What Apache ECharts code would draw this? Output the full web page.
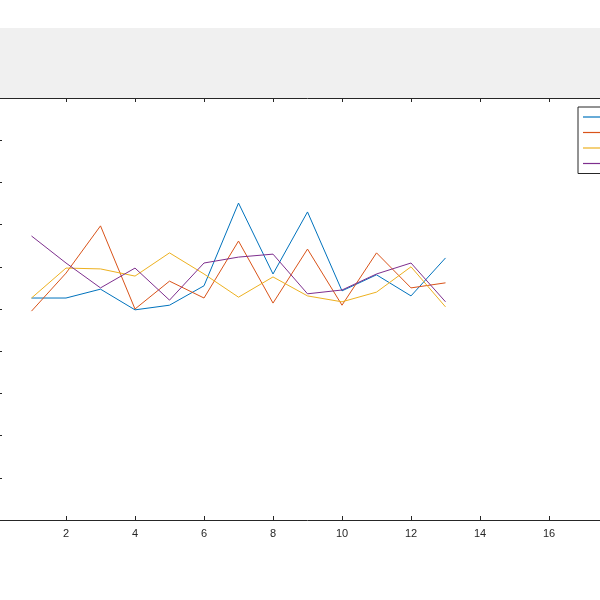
<!DOCTYPE html>
<html><head><meta charset="utf-8">
<script src="https://cdn.jsdelivr.net/npm/echarts@6/dist/echarts.min.js"></script>
<style>html,body{margin:0;padding:0;background:#fff;overflow:hidden;width:600px;height:600px;position:relative}
#c{position:absolute;left:-20px;top:0;width:660px;height:600px}</style>
</head><body><div id="c"></div>
<script>
const xValues = [1,2,3,4,5,6,7,8,9,10,11,12,13];
const xTicks = [2,4,6,8,10,12,14,16,18];
const seriesNames = ['data1','data2','data3','data4'];
const s1 = [5.26,5.26,5.47,4.98,5.09,5.55,7.51,5.83,7.30,5.43,5.81,5.31,6.21];
const s2 = [4.95,5.85,6.97,5.00,5.66,5.26,6.61,5.14,6.42,5.09,6.33,5.50,5.62];
const s3 = [5.26,5.97,5.95,5.78,6.33,5.83,5.28,5.76,5.31,5.17,5.40,6.00,5.05];
const s4 = [6.73,6.09,5.50,5.97,5.21,6.09,6.23,6.30,5.36,5.45,5.83,6.09,5.17];
const colors = ['#0072BD','#D95319','#EDB120','#7E2F8E'];
const all = [s1,s2,s3,s4];
const chart = echarts.init(document.getElementById('c'));
const axisLine = {show:true, lineStyle:{color:'#262626', width:1}};
chart.setOption({
  animation:false,
  backgroundColor:'#ffffff',
  graphic:[{type:'rect', shape:{x:0,y:28,width:660,height:70}, style:{fill:'#f0f0f0'}, z:-10}],
  grid:{left:17, right:22, top:98, bottom:80},
  legend:{
    left:598, top:107, orient:'vertical', icon:'rect', itemWidth:20, itemHeight:1.2, itemGap:5.5,
    padding:[5,5], borderColor:'#262626', borderWidth:1, backgroundColor:'#fff',
    textStyle:{fontSize:10, lineHeight:10, color:'#000'}, data:seriesNames
  },
  xAxis:[
    {type:'value', min:0, max:18, interval:2, position:'bottom', axisLine,
     axisTick:{inside:true, length:4, lineStyle:{color:'#262626'}},
     axisLabel:{color:'#262626', fontSize:11, fontFamily:'Liberation Sans', margin:8,
       formatter:v=>xTicks.includes(v)?String(v):''},
     splitLine:{show:false}},
    {type:'value', min:0, max:18, interval:2, position:'top', axisLine,
     axisTick:{inside:true, length:4, lineStyle:{color:'#262626'}},
     axisLabel:{show:false}, splitLine:{show:false}}
  ],
  yAxis:{type:'value', min:0, max:10, interval:1, axisLine,
    axisTick:{inside:true, length:5, lineStyle:{color:'#262626'}},
    axisLabel:{show:false}, splitLine:{show:false}},
  series: all.map((d,i)=>({
    name:seriesNames[i], type:'line', showSymbol:false, symbol:'none',
    data:xValues.map((x,j)=>[x,d[j]]), lineStyle:{width:1, color:colors[i]}, itemStyle:{color:colors[i]}
  }))
});
</script></body></html>
